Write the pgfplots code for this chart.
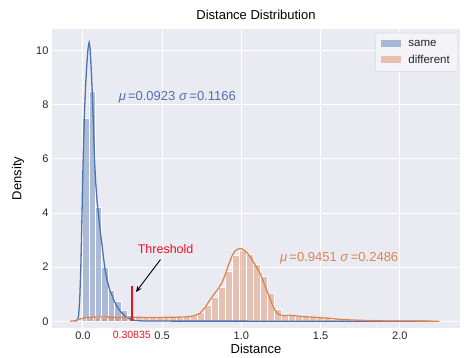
\documentclass[border=0pt]{standalone}
\usepackage{fontspec}
\setmainfont{Liberation Sans}
\usepackage{pgfplots}
\pgfplotsset{compat=1.18}
\usetikzlibrary{arrows.meta}
\definecolor{sbblue}{HTML}{4C72B0}
\definecolor{sborange}{HTML}{DD8452}
\definecolor{sbbg}{HTML}{EAEAF2}
\definecolor{thred}{HTML}{F01020}
\begin{document}
\begin{tikzpicture}
\path (-52pt,-27pt) rectangle (422pt,328pt);
\begin{axis}[
  at={(0pt,0pt)}, anchor=south west,
  scale only axis, width=408pt, height=299pt,
  xmin=-0.195, xmax=2.38, ymin=-0.25, ymax=10.8,
  axis background/.style={fill=sbbg},
  axis line style={draw=none},
  grid=major, major grid style={white, line width=0.9pt},
  tick style={draw=none},
  xtick={0,0.5,1,1.5,2}, xticklabels={0.0,0.5,1.0,1.5,2.0},
  ytick={0,2,4,6,8,10},
  /pgf/number format/assume math mode=true,
  tick label style={font=\fontsize{11}{13}\selectfont, text=black!85},
  extra x ticks={0.30835}, extra x tick labels={0.30835},
  extra x tick style={grid=none, tick label style={text=thred, font=\fontsize{10.5}{12}\selectfont}},
  title={Distance Distribution},
  every axis title/.style={at={(axis description cs:0.5,1.047)}, anchor=center, font=\fontsize{13}{15}\selectfont},
  xlabel={Distance}, ylabel={Density},
  every axis x label/.style={at={(axis description cs:0.5,-0.07)}, anchor=center, font=\fontsize{13}{15}\selectfont},
  every axis y label/.style={at={(axis description cs:-0.0833,0.5)}, rotate=90, anchor=center, font=\fontsize{13}{15}\selectfont},
  legend style={at={(axis description cs:0.995,0.987)}, anchor=north east, fill=white!45!sbbg, draw=black!15, rounded corners=3pt, font=\fontsize{11.5}{13}\selectfont, inner xsep=6pt, inner ysep=5pt, row sep=3pt, column sep=5pt, text=black!85},
  legend cell align=left,
]
\addlegendimage{legend image code/.code={\path[draw=none, fill=sbblue, fill opacity=0.45, sharp corners] (0pt,-3.5pt) rectangle (20pt,3.5pt);}}
\addlegendentry{same}
\addlegendimage{legend image code/.code={\path[draw=none, fill=sborange, fill opacity=0.45, sharp corners] (0pt,-3.5pt) rectangle (20pt,3.5pt);}}
\addlegendentry{different}
\addplot[ybar interval, fill=sbblue, fill opacity=0.4, draw=white, line width=0.5pt, forget plot]
table {
x y
-0.003 7.5
0.0375 8.5
0.078 4.2
0.1185 2.0
0.159 1.15
0.1995 0.72
0.24 0.42
0.2805 0.22
0.321 0.08
0.3615 0.03
0.402 0
};
\addplot[ybar interval, fill=sborange, fill opacity=0.4, draw=white, line width=0.5pt, forget plot]
table {
x y
0.020 0.14
0.064 0.15
0.108 0.14
0.152 0.15
0.196 0.13
0.240 0.14
0.284 0.15
0.328 0.13
0.372 0.14
0.416 0.13
0.460 0.14
0.504 0.13
0.548 0.14
0.592 0.15
0.636 0.17
0.680 0.22
0.724 0.33
0.768 0.58
0.812 0.90
0.856 1.25
0.900 1.85
0.944 2.45
0.988 2.62
1.032 2.48
1.076 2.1
1.120 1.65
1.164 1.05
1.208 0.45
1.252 0.24
1.296 0.23
1.340 0.2
1.384 0.17
1.428 0.16
1.472 0.14
1.516 0.12
1.560 0.09
1.604 0.07
1.648 0.055
1.692 0.045
1.736 0.035
1.780 0.025
1.824 0.02
1.868 0.015
1.912 0.012
1.956 0.01
2.000 0.008
2.044 0.006
2.088 0.005
2.132 0.004
2.176 0.003
2.220 0
};
% KDE same
\addplot[sharp plot, sbblue, line width=1.3pt, forget plot] table {
x y
-0.05 0
-0.04 0.02
-0.032 0.08
-0.027 0.2
-0.02 0.8
-0.013 2.0
-0.007 3.5
-0.002 5.1
0.004 6.5
0.01 7.7
0.018 8.8
0.025 9.5
0.032 10.05
0.037 10.25
0.04 10.3
0.045 10.1
0.05 9.6
0.055 9.0
0.06 8.3
0.065 7.5
0.07 6.6
0.075 5.8
0.08 5.2
0.09 4.4
0.1 3.85
0.11 3.3
0.12 2.85
0.13 2.35
0.14 1.9
0.15 1.6
0.16 1.35
0.17 1.15
0.18 1.0
0.2 0.72
0.22 0.5
0.24 0.34
0.26 0.22
0.28 0.13
0.30 0.07
0.33 0.03
0.38 0.01
0.5 0.005
1.0 0.003
1.5 0.002
2.0 0.001
2.2 0
};
% KDE different
\addplot[sharp plot, sborange, line width=1.3pt, forget plot] table {
x y
-0.08 0
-0.05 0.02
-0.03 0.06
0.0 0.11
0.03 0.14
0.06 0.15
0.1 0.155
0.2 0.15
0.3 0.145
0.4 0.14
0.5 0.14
0.6 0.15
0.65 0.16
0.68 0.18
0.71 0.22
0.74 0.3
0.77 0.5
0.80 0.77
0.83 1.02
0.86 1.25
0.88 1.45
0.9 1.75
0.92 2.1
0.94 2.4
0.96 2.6
0.98 2.67
1.0 2.68
1.02 2.62
1.04 2.5
1.06 2.35
1.08 2.15
1.1 1.95
1.12 1.75
1.14 1.45
1.16 1.15
1.18 0.85
1.2 0.55
1.22 0.33
1.24 0.24
1.27 0.21
1.3 0.22
1.33 0.21
1.37 0.18
1.42 0.16
1.48 0.14
1.55 0.11
1.62 0.07
1.7 0.045
1.8 0.025
1.9 0.012
2.0 0.008
2.1 0.005
2.25 0.0
};
% threshold
\addplot[forget plot, mark=none, color=thred, line width=1.6pt] coordinates {(0.30835,0) (0.30835,1.3)};
\draw[-{Stealth[length=6pt,width=5pt]}, black, line width=0.9pt] (axis cs:0.49,2.28) -- (axis cs:0.335,1.08);
\node[text=thred, anchor=center, font=\fontsize{12.5}{14}\selectfont] at (axis cs:0.522,2.65) {Threshold};
\node[text=sbblue, anchor=west, font=\fontsize{13}{15}\selectfont] at (axis cs:0.204,8.27) {\textit{μ}\,=0.0923 \textit{σ}\,=0.1166};
\node[text=sborange, anchor=west, font=\fontsize{13}{15}\selectfont] at (axis cs:1.223,2.32) {\textit{μ}\,=0.9451 \textit{σ}\,=0.2486};
\end{axis}
\end{tikzpicture}
\end{document}
